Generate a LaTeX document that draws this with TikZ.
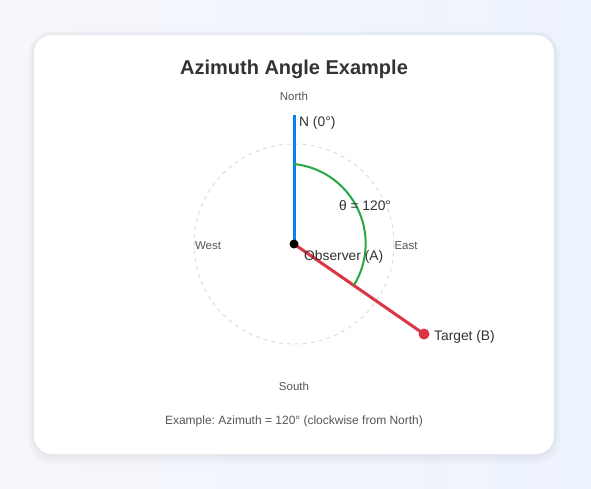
\documentclass[tikz,border=0pt]{standalone}
\usepackage{fontspec}
\setmainfont{Liberation Sans}
\frenchspacing
\definecolor{bgA}{HTML}{F6F7FB}
\definecolor{bgB}{HTML}{EDF3FD}
\definecolor{bluel}{HTML}{0A7FF5}
\definecolor{redl}{HTML}{DC3545}
\definecolor{greenl}{HTML}{28A745}
\definecolor{txt}{HTML}{333333}
\definecolor{gtxt}{HTML}{555555}
\definecolor{circ}{HTML}{DDDDDD}
\begin{document}
\begin{tikzpicture}[x=1pt,y=-1pt,
  compass/.style={font=\fontsize{11.5}{13}\selectfont, text=gtxt, inner sep=0pt},
  lbl/.style={font=\fontsize{13.8}{16}\selectfont, text=txt, inner sep=0pt},
  dotn/.style={circle, inner sep=0pt}]
\useasboundingbox (0,0) rectangle (591,488);
\shade[left color=bgA, right color=bgB] (0,0) rectangle (591,488);
\fill[black, opacity=0.015, rounded corners=24pt] (28,31) rectangle (560,464);
\fill[black, opacity=0.02, rounded corners=22pt] (30,32) rectangle (558,461);
\fill[black, opacity=0.025, rounded corners=20pt] (32,34) rectangle (556,457);
\fill[white, rounded corners=18pt] (34,35) rectangle (554,454);
\node[font=\bfseries\fontsize{20}{24}\selectfont, text=txt] (title) at (294,69) {Azimuth Angle Example};
% compass circle
\draw[circ, dash pattern=on 4pt off 4pt, line width=1pt] (294,244) circle[radius=100];
\node[compass] (north) at (294,96) {North};
\node[compass] (south) at (294,386) {South};
\node[compass] (west) at (208,246) {West};
\node[compass] (east) at (406,246) {East};
% lines
\coordinate (obs) at (294,244);
\coordinate (ntop) at (294,115);
\node[dotn, fill=redl, minimum size=11pt] (tgt) at (424,334) {};
\draw[bluel, line width=3pt] (obs) -- (ntop);
\draw[redl, line width=3pt] (obs) -- (tgt.center);
\draw[greenl, line width=2pt] (294,164) arc[start angle=-84, end angle=31.2, radius=80];
\node[dotn, fill=black, minimum size=9pt] (obsdot) at (obs) {};
\node[lbl, anchor=west] (nlabel) at (299,122.5) {N (0°)};
\node[lbl] (theta) at (365,206) {θ = 120°};
\node[lbl, anchor=west] (obslabel) at (304,256.5) {Observer (A)};
\node[lbl, anchor=west] (tgtlabel) at (434,336.5) {Target (B)};
\node[font=\fontsize{12}{14}\selectfont, text=gtxt] (example) at (294,421) {Example: Azimuth = 120° (clockwise from North)};
\end{tikzpicture}
\end{document}
